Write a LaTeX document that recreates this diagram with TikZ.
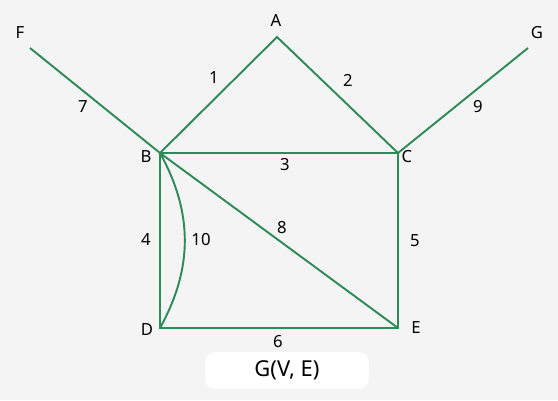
\documentclass[tikz,border=0pt]{standalone}
\usepackage{fontspec}
\setmainfont{Noto Sans}
\definecolor{edgegreen}{RGB}{46,139,87}
\definecolor{bggray}{RGB}{244,244,244}
\tikzset{
  edge/.style={draw=edgegreen,line width=1.1pt},
  vname/.style={font=\fontsize{9.5}{11}\selectfont,inner sep=0pt},
  wlabel/.style={font=\fontsize{9.5}{11}\selectfont,inner sep=0pt},
}
\begin{document}
\begin{tikzpicture}[x=0.02cm,y=0.02cm]

\fill[bggray] (0,0) rectangle (558,400);

\coordinate (A) at (277,363);
\coordinate (B) at (160,247);
\coordinate (C) at (398,247);
\coordinate (D) at (160,72);
\coordinate (E) at (398,72);
\coordinate (F) at (30,352);
\coordinate (G) at (528,352);

\node[vname] (nA) at (276,379) {A};
\node[vname] (nB) at (146,243) {B};
\node[vname] (nC) at (407,243) {C};
\node[vname] (nD) at (147,70) {D};
\node[vname] (nE) at (416,72) {E};
\node[vname] (nF) at (20,367) {F};
\node[vname] (nG) at (537,367) {G};

\draw[edge] (B) -- (A) -- (C);
\draw[edge] (F) -- (B) -- (C) -- (G);
\draw[edge] (B) -- (D) -- (E) -- (C);
\draw[edge] (B) -- (E);
\draw[edge] (B) to[bend left=29] (D);

\node[wlabel] (w1) at (214,322) {1};
\node[wlabel] (w2) at (348,320) {2};
\node[wlabel] (w3) at (285,235) {3};
\node[wlabel] (w4) at (146,160) {4};
\node[wlabel] (w5) at (415,159) {5};
\node[wlabel] (w6) at (278,58) {6};
\node[wlabel] (w7) at (83,293) {7};
\node[wlabel] (w8) at (282,172) {8};
\node[wlabel] (w9) at (478,293) {9};
\node[wlabel] (w10) at (201,160) {10};

\fill[white,rounded corners=6pt] (205,11) rectangle (369,48);
\node[font=\fontsize{12.5}{14}\selectfont,inner sep=0pt] (title) at (287,30) {G(V, E)};

\end{tikzpicture}
\end{document}
